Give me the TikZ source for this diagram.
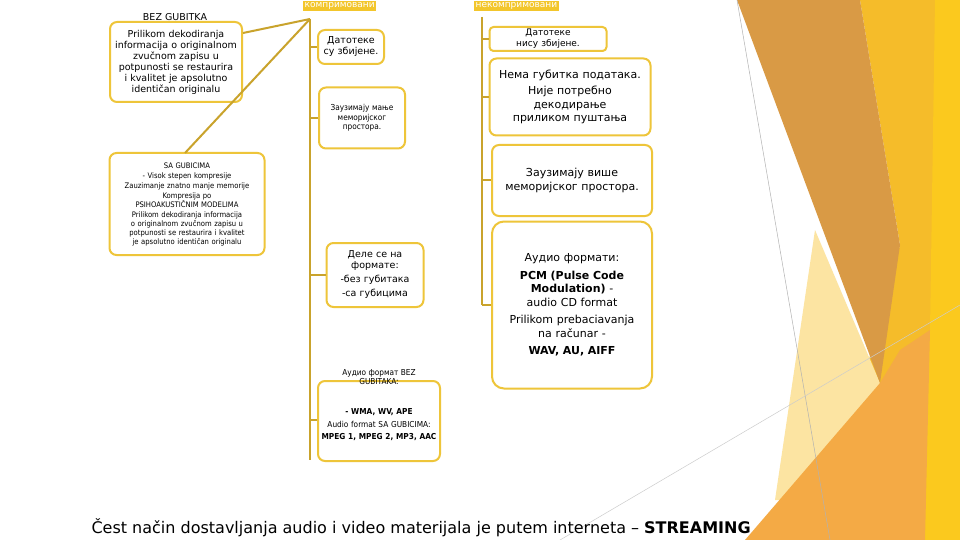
\documentclass[tikz,border=0pt]{standalone}
\usepackage{fontspec}
\setmainfont{DejaVu Sans}
\newfontfamily\cond{DejaVu Sans Condensed}
\hyphenpenalty=10000
\begin{document}
\begin{tikzpicture}[x=1pt,y=-1pt,
  box/.style={draw=boxc,line width=2pt,rounded corners=7pt,fill=white,align=center,inner sep=1pt},
  hdr/.style={fill=hdrc,text=white,font=\fontsize{9}{10}\selectfont,inner sep=1.5pt,anchor=north west},
  conn/.style={draw=linec,line width=2pt},
  tiny/.style={font=\cond\fontsize{7.6}{9}\selectfont},
  tinyb/.style={font=\cond\fontsize{8.2}{9.6}\selectfont},
  small/.style={font=\fontsize{9.5}{11}\selectfont},
  mid/.style={font=\fontsize{11}{13.5}\selectfont}]
\definecolor{boxc}{HTML}{EEC53A}
\definecolor{hdrc}{HTML}{F3C62C}
\definecolor{linec}{HTML}{C9A32C}
\definecolor{brn}{HTML}{D99A45}
\definecolor{ylw}{HTML}{F5BC2A}
\definecolor{bry}{HTML}{FBC91E}
\definecolor{crm}{HTML}{FCE4A2}
\definecolor{org}{HTML}{F4AA45}
\useasboundingbox (0,0) rectangle (960,540);
\fill[white] (0,0) rectangle (960,540);
% background
\fill[ylw] (860,0) -- (960,0) -- (960,540) -- (820,540) -- (900,245) -- cycle;
\fill[bry] (935,0) -- (960,0) -- (960,540) -- (900,540) -- (930,330) -- cycle;
\fill[crm] (815,230) -- (880,383) -- (800,500) -- (775,500) -- cycle;
\fill[org] (880,383) -- (900,350) -- (930,330) -- (925,540) -- (745,540) -- cycle;
\fill[brn] (737,0) -- (860,0) -- (900,245) -- (880,383) -- cycle;
\draw[gray!60,line width=0.5pt] (737,0) -- (830,540);
\draw[gray!40,line width=0.5pt] (560,540) -- (960,305);
% headers
\node[hdr] (hk) at (303,1) {компримовани};
\node[hdr] (hn) at (474,1) {некомпримовани};
% left
\node[small] (bgl) at (175,17) {BEZ GUBITKA};
\node[box,small,text width=122pt,minimum width=132pt,minimum height=80pt] (bg) at (176,62) {Prilikom dekodiranja informacija o originalnom zvučnom zapisu u potpunosti se restaurira i kvalitet je apsolutno identičan originalu};
\node[box,tiny,text width=148pt,minimum width=155pt,minimum height=102pt] (sg) at (187,204) {SA GUBICIMA\\[1pt]- Visok stepen kompresije\\[1pt]Zauzimanje znatno manje memorije\\[1pt]Kompresija po PSIHOAKUSTIČNIM MODELIMA\\[1pt]Prilikom dekodiranja informacija o originalnom zvučnom zapisu u potpunosti se restaurira i kvalitet je apsolutno identičan originalu};
\coordinate (tk) at (310,19);
\coordinate (tkb) at (310,460);
\draw[conn] (tk) -- (bg.east|-0,33);
\draw[conn] (tk) -- (185,153);
\draw[conn] (tk) -- (tkb);
% middle column
\node[box,small,text width=62pt,minimum width=66pt,minimum height=34pt] (m1) at (351,47) {Датотеке су збијене.};
\node[box,tinyb,text width=80pt,minimum width=86pt,minimum height=61pt] (m2) at (362,118) {Заузимају мање меморијског простора.};
\node[box,small,text width=92pt,minimum width=97pt,minimum height=64pt] (m3) at (375,275) {Деле се на формате:\\[3pt]-без губитака\\[3pt]-са губицима};
\node[box,tinyb,text width=118pt,minimum width=122pt,minimum height=80pt] (m4) at (379,421) {\\[4pt]\textbf{- WMA, WV, APE}\\[3pt]Audio format SA GUBICIMA:\\[3pt]\textbf{MPEG 1, MPEG 2, MP3, AAC}};
\node[tinyb] (m4l) at (379,378) {\begin{tabular}{@{}c@{}}Аудио формат BEZ\\GUBITAKA:\end{tabular}};
\foreach \n/\y in {m1/47,m2/118,m3/275,m4/420}{\draw[conn] (310,\y) -- (\n.west|-0,\y);}
% right column
\coordinate (tn) at (482,17);
\draw[conn] (tn) -- (482,305);
\node[box,small,rounded corners=4pt,text width=100pt,minimum width=117pt,minimum height=24pt,inner sep=0pt] (r1) at (548,39) {\fontsize{9}{10}\selectfont Датотеке нису збијене.};
\node[box,mid,text width=150pt,minimum width=161pt,minimum height=77pt,inner sep=0pt] (r2) at (570,97) {Нема губитка података.\\[3pt]Није потребно декодирање приликом пуштања};
\node[box,mid,text width=150pt,minimum width=160pt,minimum height=71pt,anchor=north] (r3) at (572,144) {Заузимају више меморијског простора.\\[14pt]};
\node[box,mid,text width=150pt,minimum width=160pt,minimum height=167pt,rounded corners=12pt] (r4) at (572,305) {Аудио формати:\\[4pt]\textbf{PCM (Pulse Code Modulation)} - audio CD format\\[4pt]Prilikom prebaciavanja na računar -\\[4pt]\textbf{WAV, AU, AIFF}};
\foreach \n/\y in {r1/39,r2/97,r3/180,r4/305}{\draw[conn] (482,\y) -- (\n.west|-0,\y);}
% bottom
\node[font=\fontsize{16}{18}\selectfont,anchor=west] (bt) at (88,528) {Čest način dostavljanja audio i video materijala je putem interneta – \textbf{STREAMING}};
\end{tikzpicture}
\end{document}
